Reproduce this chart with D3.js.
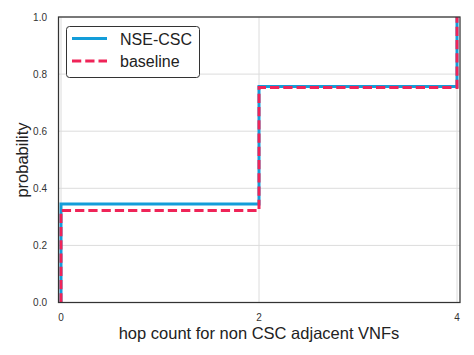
<!DOCTYPE html>
<html><head><meta charset="utf-8">
<script src="https://cdn.jsdelivr.net/npm/d3@7"></script>
<style>body{margin:0;background:#fff}svg{display:block}text{font-family:"Liberation Sans",Arial,sans-serif}</style>
</head><body>
<script>
const hopCounts = [0, 2, 4];
const nseCsc = [0.345, 0.757, 1.0];
const baseline = [0.322, 0.753, 1.0];
const seriesNames = ["NSE-CSC", "baseline"];
const yTicks = [0.0, 0.2, 0.4, 0.6, 0.8, 1.0];
const xTicks = [0, 2, 4];

const W = 474, H = 355;
const pLeft = 58.5, pRight = 460, pTop = 17, pBottom = 302.5;
const svg = d3.select("body").append("svg").attr("width", W).attr("height", H);

const x = d3.scaleLinear().domain([0, 4]).range([61, 457]);
const y = d3.scaleLinear().domain([0, 1]).range([pBottom, pTop]);

// grid
svg.append("g").selectAll("line").data(yTicks).join("line")
  .attr("x1", pLeft).attr("x2", pRight).attr("y1", d => y(d)).attr("y2", d => y(d))
  .attr("stroke", "#dcdcdc").attr("stroke-width", 1);
svg.append("g").selectAll("line").data(xTicks).join("line")
  .attr("y1", pTop).attr("y2", pBottom).attr("x1", d => x(d)).attr("x2", d => x(d))
  .attr("stroke", "#dcdcdc").attr("stroke-width", 1);

svg.append("clipPath").attr("id", "clip").append("rect")
  .attr("x", pLeft).attr("y", pTop - 2).attr("width", pRight - pLeft).attr("height", pBottom - pTop + 2);

function stepPts(vals) {
  const pts = [[hopCounts[0], 0]];
  hopCounts.forEach((h, i) => {
    pts.push([h, i === 0 ? 0 : vals[i - 1]]);
    pts.push([h, vals[i]]);
  });
  return pts;
}
const line = d3.line().x(d => x(d[0])).y(d => y(d[1]));
const g = svg.append("g").attr("clip-path", "url(#clip)");
g.append("path").attr("d", line(stepPts(nseCsc))).attr("fill", "none")
  .attr("stroke", "#139dd9").attr("stroke-width", 3);
g.append("path").attr("d", line(stepPts(baseline))).attr("fill", "none")
  .attr("stroke", "#ef2458").attr("stroke-width", 3).attr("stroke-dasharray", "9.25,4");

// spines
svg.append("rect").attr("x", pLeft).attr("y", pTop).attr("width", pRight - pLeft).attr("height", pBottom - pTop)
  .attr("fill", "none").attr("stroke", "#333").attr("stroke-width", 1.25);

// ticks
svg.append("g").selectAll("text").data(yTicks).join("text")
  .attr("x", 47).attr("y", d => y(d) + 3.5).attr("text-anchor", "end")
  .attr("font-size", 10).attr("fill", "#333").text(d => d.toFixed(1));
svg.append("g").selectAll("text").data(xTicks).join("text")
  .attr("x", d => x(d)).attr("y", 320.5).attr("text-anchor", "middle")
  .attr("font-size", 10).attr("fill", "#333").text(d => d);

// axis labels
svg.append("text").attr("x", 259).attr("y", 339).attr("text-anchor", "middle")
  .attr("font-size", 16.5).attr("fill", "#222").text("hop count for non CSC adjacent VNFs");
svg.append("text").attr("transform", "translate(27.5,160) rotate(-90)").attr("text-anchor", "middle")
  .attr("font-size", 16.5).attr("fill", "#222").text("probability");

// legend
const lg = svg.append("g");
lg.append("rect").attr("x", 66.5).attr("y", 26.5).attr("width", 133).attr("height", 51).attr("rx", 3)
  .attr("fill", "#fff").attr("stroke", "#333").attr("stroke-width", 1);
const colors = ["#139dd9", "#ef2458"];
const dashes = [null, "9.25,4"];
seriesNames.forEach((n, i) => {
  const yy = 38.5 + i * 22.5;
  lg.append("line").attr("x1", 72).attr("x2", 107).attr("y1", yy).attr("y2", yy)
    .attr("stroke", colors[i]).attr("stroke-width", 3).attr("stroke-dasharray", dashes[i]);
  lg.append("text").attr("x", 120).attr("y", yy + 6).attr("font-size", 16).attr("fill", "#222").text(n);
});
</script>
</body></html>
